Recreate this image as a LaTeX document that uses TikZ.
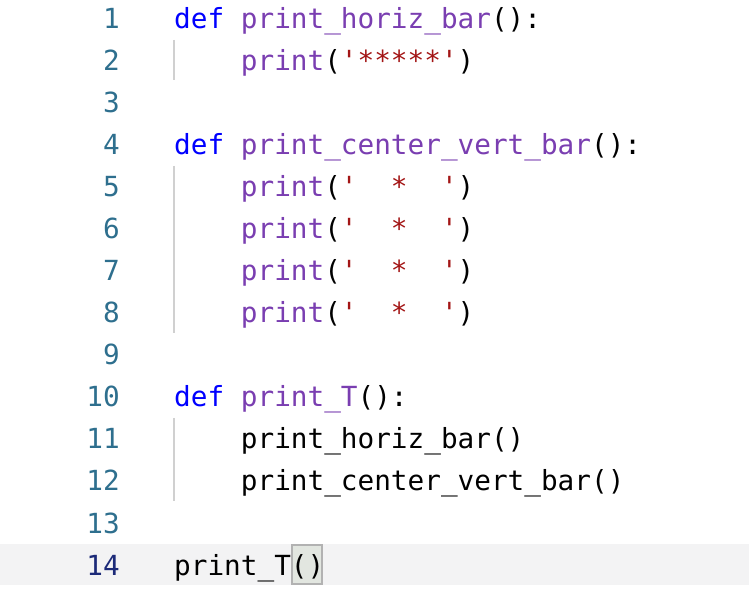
\documentclass[tikz,border=0pt]{standalone}
\usepackage{fontspec}
\newfontfamily\code{DejaVu Sans Mono}
\definecolor{kw}{HTML}{0000FF}
\definecolor{fn}{HTML}{7A3EB1}
\definecolor{st}{HTML}{A31515}
\definecolor{ln}{HTML}{2E6F8E}
\definecolor{lnc}{HTML}{1C2A78}
\definecolor{hl}{HTML}{F3F3F4}
\definecolor{guide}{HTML}{D0D0D0}
\definecolor{brk}{HTML}{E2E6E0}
\begin{document}
\begin{tikzpicture}[x=1pt,y=1pt,
  codeline/.style={anchor=base west,inner sep=0pt,font=\code\fontsize{27.7}{30}\selectfont},
  lnum/.style={anchor=base east,inner sep=0pt,font=\code\fontsize{27.7}{30}\selectfont,text=ln}]
\fill[white] (0,0) rectangle (749,605);
\useasboundingbox (0,0) rectangle (749,605);
\fill[hl] (0,20) rectangle (749,61);
\fill[brk,draw=gray!60,line width=1.2pt] (292,21) rectangle (322,60);
\draw[guide,line width=1.2pt] (174,565) -- (174,525);
\draw[guide,line width=1.2pt] (174,439) -- (174,272);
\draw[guide,line width=1.2pt] (174,187) -- (174,104);
\foreach \i in {1,...,13}{
  \node[lnum] (n\i) at (120,{576-42*(\i-1)}) {\i};
}
\node[lnum,text=lnc] (n14) at (120,{576-42*13}) {14};
\def\Y#1{{576-42*(#1-1)}}
\node[codeline] (l1) at (174,\Y{1}) {\textcolor{kw}{def} \textcolor{fn}{print\_horiz\_bar}():};
\node[codeline] (l2) at (174,\Y{2}) {\ \ \ \ \textcolor{fn}{print}(\textcolor{st}{'*****'})};
\node[codeline] (l4) at (174,\Y{4}) {\textcolor{kw}{def} \textcolor{fn}{print\_center\_vert\_bar}():};
\foreach \k in {5,...,8}{
  \node[codeline] (l\k) at (174,\Y{\k}) {\ \ \ \ \textcolor{fn}{print}(\textcolor{st}{'\ \ *\ \ '})};
}
\node[codeline] (l10) at (174,\Y{10}) {\textcolor{kw}{def} \textcolor{fn}{print\_T}():};
\node[codeline] (l11) at (174,\Y{11}) {\ \ \ \ print\_horiz\_bar()};
\node[codeline] (l12) at (174,\Y{12}) {\ \ \ \ print\_center\_vert\_bar()};
\node[codeline] (l14) at (174,\Y{14}) {print\_T()};
\end{tikzpicture}
\end{document}
